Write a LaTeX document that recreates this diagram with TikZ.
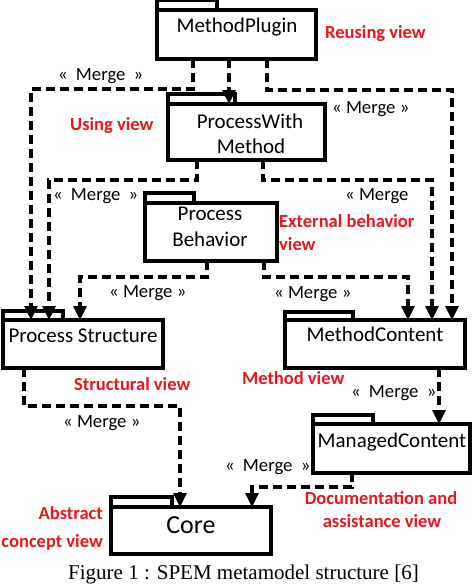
\documentclass[tikz,border=0pt]{standalone}
\usepackage{fontspec}
\setmainfont{Carlito}
\newfontfamily\capfont{Liberation Serif}
\usetikzlibrary{arrows.meta}
\definecolor{viewred}{RGB}{232,22,28}
\tikzset{
  pkg/.style={draw, line width=3.2pt, anchor=north west, inner sep=0pt, outer sep=0pt},
  tabline/.style={line width=3.2pt},
  pkgtext/.style={font=\fontsize{21}{25}\selectfont, anchor=base, inner sep=0pt},
  viewlabel/.style={text=viewred, font=\bfseries\fontsize{18.5}{22}\selectfont, inner sep=0pt},
  mergelabel/.style={font=\fontsize{18.7}{22}\selectfont, anchor=base west, inner sep=0pt},
  mergeline/.style={line width=3.2pt, dash pattern=on 9pt off 5pt, -{Triangle[width=13pt,length=14pt]}}
}
\newcommand{\mergeW}{«\hspace{4pt} Merge\hspace{4pt} »}
\newcommand{\mergeR}{« Merge »}
\begin{document}
\begin{tikzpicture}[x=1pt,y=-1pt]
\useasboundingbox (0,0) rectangle (474,584);

% packages
\node[pkg, minimum width=159pt, minimum height=49pt] (mp) at (157,10) {};
\draw[tabline] (mp.north west) rectangle ++(60,-10);
\node[pkgtext] (mpt) at (237,32) {MethodPlugin};

\node[pkg, minimum width=157pt, minimum height=56pt] (pwm) at (168,104) {};
\draw[tabline] (pwm.north west) rectangle ++(67,-10);
\node[pkgtext] (pwmt1) at (250,128) {ProcessWith};
\node[pkgtext] (pwmt2) at (251,153) {Method};

\node[pkg, minimum width=132pt, minimum height=58pt] (pb) at (145,203) {};
\draw[tabline] (pb.north west) rectangle ++(49,-10);
\node[pkgtext] (pbt1) at (210,220) {Process};
\node[pkgtext] (pbt2) at (210,246) {Behavior};

\node[pkg, minimum width=160pt, minimum height=48pt] (ps) at (3,320) {};
\draw[tabline] (ps.north west) rectangle ++(60,-9);
\node[pkgtext] (pst) at (83,342) {Process Structure};

\node[pkg, minimum width=180pt, minimum height=48pt] (mc) at (285,320) {};
\draw[tabline] (mc.north west) rectangle ++(68,-8);
\node[pkgtext] (mct) at (375,341) {MethodContent};

\node[pkg, minimum width=157pt, minimum height=49pt] (mg) at (313,424) {};
\draw[tabline] (mg.north west) rectangle ++(60,-9);
\node[pkgtext] (mgt) at (392,447) {ManagedContent};

\node[pkg, minimum width=160pt, minimum height=47pt] (core) at (111,507) {};
\draw[tabline] (core.north west) rectangle ++(61,-10);
\node[pkgtext, font=\fontsize{26}{30}\selectfont] (coret) at (191,533) {Core};

% connector end points
\coordinate (mpA) at ([xshift=36]mp.south west);
\coordinate (mpB) at ([xshift=72]mp.south west);
\coordinate (mpC) at ([xshift=110]mp.south west);
\coordinate (pwmA) at ([xshift=29]pwm.south west);
\coordinate (pwmB) at ([xshift=95]pwm.south west);
\coordinate (pbA) at ([xshift=62]pb.south west);
\coordinate (pbB) at ([xshift=119]pb.south west);
\coordinate (psA) at ([xshift=28]ps.north west);
\coordinate (psB) at ([xshift=46]ps.north west);
\coordinate (psC) at ([xshift=77]ps.north west);
\coordinate (psD) at ([xshift=21]ps.south west);
\coordinate (mcA) at ([xshift=123]mc.north west);
\coordinate (mcB) at ([xshift=147]mc.north west);
\coordinate (mcC) at ([xshift=167]mc.north west);
\coordinate (mcD) at ([xshift=154]mc.south west);
\coordinate (mgA) at ([xshift=39]mg.south west);
\coordinate (coreA) at ([xshift=69]core.north west);
\coordinate (coreB) at ([xshift=141]core.north west);

% connectors
\draw[mergeline] (mpA) -- ++(0,30) -| (psA);
\draw[mergeline] (mpB) -- (mpB |- pwm.north);
\draw[mergeline] (mpC) -- ++(0,31) -| (mcC);
\draw[mergeline] (pwmA) -- ++(0,20) -| (psB);
\draw[mergeline] (pwmB) -- ++(0,20) -| (mcB);
\draw[mergeline] (pbA) -- ++(0,16) -| (psC);
\draw[mergeline] (pbB) -- ++(0,16) -| (mcA);
\draw[mergeline] (psD) -- ++(0,38) -| (coreA);
\draw[mergeline] (mcD) -- (mcD |- mg.north);
\draw[mergeline] (mgA) -- ++(0,14) -| (coreB);

% merge labels
\node[mergelabel] (m1) at (58,80) {\mergeW};
\node[mergelabel] (m2) at (332,113) {\mergeR};
\node[mergelabel] (m3) at (53,200) {\mergeW};
\node[mergelabel] (m4) at (345,200) {« Merge};
\node[mergelabel] (m5) at (109,297) {\mergeR};
\node[mergelabel] (m6) at (274,298) {\mergeR};
\node[mergelabel] (m7) at (351,397) {\mergeW};
\node[mergelabel] (m8) at (63,427) {\mergeR};
\node[mergelabel] (m9) at (225,471) {\mergeW};

% view labels
\node[viewlabel, anchor=base west] (reuse) at (325,38) {Reusing view};
\node[viewlabel, anchor=base west] (using) at (70,130) {Using view};
\node[viewlabel, anchor=base west] (ext1) at (279,227) {External behavior};
\node[viewlabel, anchor=base west] (ext2) at (279,250) {view};
\node[viewlabel, anchor=base west] (struct) at (74,390) {Structural view};
\node[viewlabel, anchor=base west] (methv) at (242,384) {Method view};
\node[viewlabel, anchor=base] (doc1) at (381,504) {Documentation and};
\node[viewlabel, anchor=base] (doc2) at (382,527) {assistance view};
\node[viewlabel, anchor=base east] (abs1) at (103,519) {Abstract};
\node[viewlabel, anchor=base east] (abs2) at (103,547) {concept view};

% caption
\node[font=\capfont\fontsize{21}{25}\selectfont, anchor=base west, inner sep=0pt] (cap) at (68,579) {Figure 1 : SPEM metamodel structure [6]};
\end{tikzpicture}
\end{document}
